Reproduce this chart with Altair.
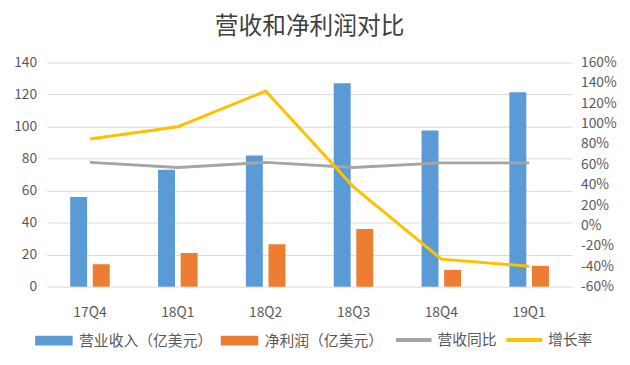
import altair as alt
import pandas as pd

quarters = ["17Q4", "18Q1", "18Q2", "18Q3", "18Q4", "19Q1"]
revenue = [56, 73, 82, 127, 97.5, 121.5]
net_profit = [14, 21, 26.5, 36, 10.5, 13]
rev_yoy = [62, 57, 62, 57, 61.5, 61.5]
growth = [85, 97, 132, 38, -33, -40]

bar_names = ["营业收入（亿美元）", "净利润（亿美元）"]
line_names = ["营收同比", "增长率"]

bars_df = pd.DataFrame(
    [{"q": q, "s": bar_names[0], "v": v} for q, v in zip(quarters, revenue)]
    + [{"q": q, "s": bar_names[1], "v": v} for q, v in zip(quarters, net_profit)]
)
lines_df = pd.DataFrame(
    [{"q": q, "s": line_names[0], "v": v} for q, v in zip(quarters, rev_yoy)]
    + [{"q": q, "s": line_names[1], "v": v} for q, v in zip(quarters, growth)]
)

FONT = "Noto Sans CJK SC"
LBL = "#595959"
x_enc = alt.X("q:N", sort=quarters, title=None,
              scale=alt.Scale(paddingInner=0.55, paddingOuter=0.27),
              axis=alt.Axis(labelAngle=0, domain=False, ticks=False, labelPadding=19,
                            labelFontSize=14, labelColor=LBL, labelFont=FONT))

bars = alt.Chart(bars_df).mark_bar().encode(
    x=x_enc,
    xOffset=alt.XOffset("s:N", sort=bar_names, scale=alt.Scale(paddingInner=0.25)),
    y=alt.Y("v:Q", title=None,
            scale=alt.Scale(domain=[0, 140], nice=False),
            axis=alt.Axis(values=list(range(0, 141, 20)), domain=False, ticks=False,
                          gridColor="#d9d9d9", labelFontSize=14, labelColor=LBL,
                          labelPadding=10, labelFont=FONT)),
    color=alt.Color("s:N", sort=bar_names,
                    scale=alt.Scale(domain=bar_names, range=["#5B9BD5", "#ED7D31"]),
                    legend=alt.Legend(title=None, orient="none", direction="horizontal",
                                      legendX=0, legendY=274,
                                      symbolType="M-3.8,-1H3.8V1H-3.8Z", symbolSize=100,
                                      labelOffset=18, columnPadding=7,
                                      labelFontSize=15, labelColor=LBL, labelFont=FONT,
                                      symbolStrokeWidth=0)),
)

lines = alt.Chart(lines_df).mark_line(strokeWidth=3).encode(
    x=x_enc,
    y=alt.Y("v:Q", title=None,
            scale=alt.Scale(domain=[-60, 160], nice=False),
            axis=alt.Axis(orient="right", values=list(range(-60, 161, 20)), grid=False,
                          domain=False, ticks=False, labelFontSize=14, labelColor=LBL,
                          labelPadding=8, labelFont=FONT,
                          labelExpr="datum.value + '%'")),
    stroke=alt.Stroke("s:N", sort=line_names,
                      scale=alt.Scale(domain=line_names, range=["#A5A5A5", "#FFC000"]),
                      legend=alt.Legend(title=None, orient="none", direction="horizontal",
                                        legendX=352, legendY=261,
                                        symbolType="stroke", symbolStrokeWidth=4, symbolSize=1296,
                                        labelOffset=4, columnPadding=1,
                                        labelFontSize=15, labelColor=LBL, labelFont=FONT)),
)

chart = alt.layer(bars, lines).resolve_scale(y="independent", color="independent").properties(
    width=533, height=227,
    title=alt.Title("营收和净利润对比", fontSize=24, font=FONT, fontWeight="normal",
                    color="#404040", offset=17),
).configure_view(stroke=None)

chart.save("out.html", embed_options={"renderer": "svg", "actions": False})
